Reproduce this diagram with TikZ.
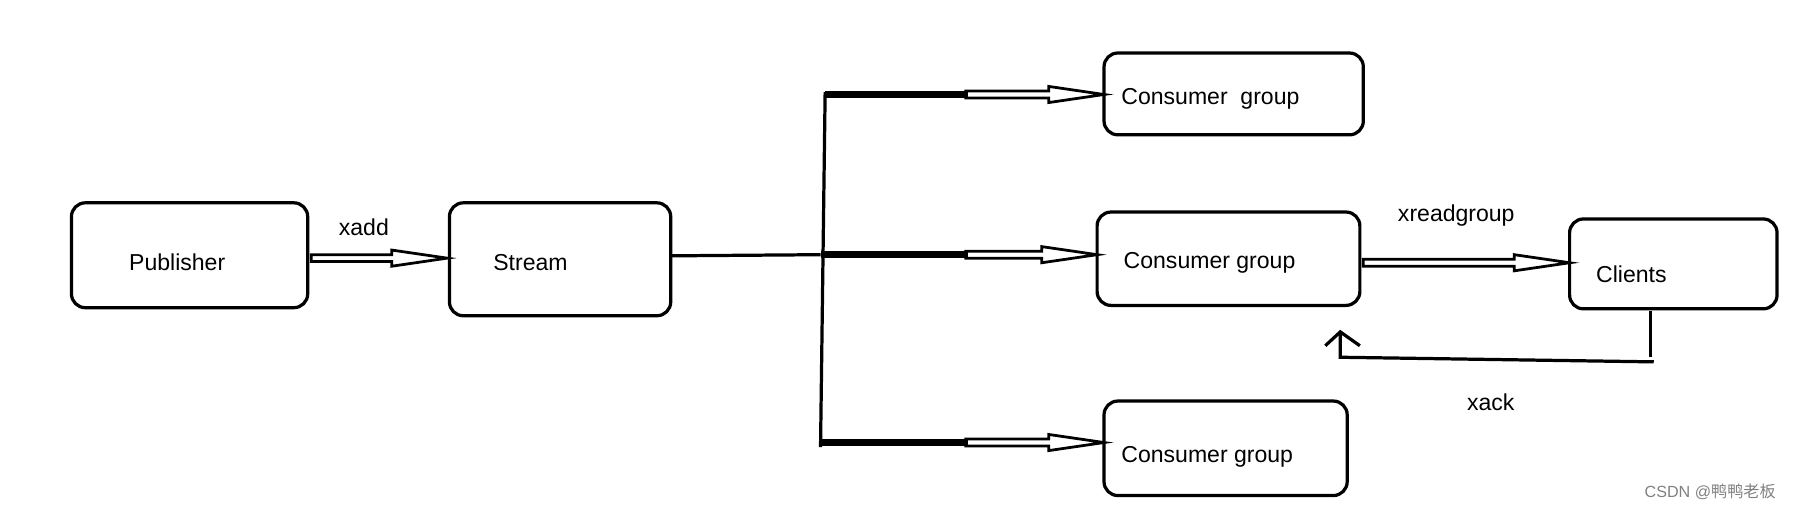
\documentclass[tikz,border=0pt]{standalone}
\usepackage{fontspec}
\setmainfont{Liberation Sans}
\newfontfamily\cjk{Noto Sans CJK SC}
\newcommand\hollowarr[3]{% x1, x2, y
  \draw[line width=1.2pt,line join=miter] (#1,#3-3) -- (#2-48,#3-3) -- (#2-48,#3-7) -- (#2,#3) -- (#2-48,#3+7) -- (#2-48,#3+3) -- (#1,#3+3) -- cycle;}
\begin{document}
\begin{tikzpicture}[x=0.5pt,y=-0.5pt,
  box/.style={draw,line width=1.4pt,rounded corners=6pt},
  lbl/.style={font=\fontsize{10}{12}\selectfont,anchor=west},
  ln/.style={line width=1.4pt}]
\useasboundingbox (0,0) rectangle (1568,443);
\draw[box] (62,176) rectangle (267,267) coordinate (pubBR);
\node[lbl] (pub) at (105,228) {Publisher};
\draw[box] (390,176) rectangle (582,274);
\node[lbl] (str) at (421,228) {Stream};
\draw[box] (958,46) rectangle (1183,117);
\node[lbl] (c1) at (966,86) {Consumer\ \ group};
\draw[box] (952,184) rectangle (1180,265);
\node[lbl] (c2) at (968,228) {Consumer group};
\draw[box] (958,348) rectangle (1169,430);
\node[lbl] (c3) at (966,396) {Consumer group};
\draw[box] (1362,190) rectangle (1542,268);
\node[lbl] (cl) at (1378,238) {Clients};
\hollowarr{270}{388}{224}
\node[lbl] at (287,197) {xadd};
\draw[ln] (582,222) -- (712,221);
\draw[ln] (716,80) -- (712,388);
\draw[line width=3pt] (716,82) -- (840,82);
\hollowarr{838}{958}{82}
\draw[line width=3pt] (712,221) -- (840,221);
\hollowarr{838}{952}{221}
\draw[line width=3pt] (712,384) -- (840,384);
\hollowarr{838}{958}{384}
\hollowarr{1183}{1362}{228}
\node[lbl] at (1206,187) {xreadgroup};
\draw[ln] (1432,270) -- (1432,310);
\draw[ln] (1435,314) -- (1163,310) -- (1163,288);
\draw[ln] (1150,300) -- (1163,288) -- (1180,300);
\node[lbl] at (1266,349) {xack};
\node[anchor=west,text=gray,font=\fontsize{7}{8}\selectfont] at (1420,427) {CSDN @{\cjk 鸭鸭老板}};
\end{tikzpicture}
\end{document}
